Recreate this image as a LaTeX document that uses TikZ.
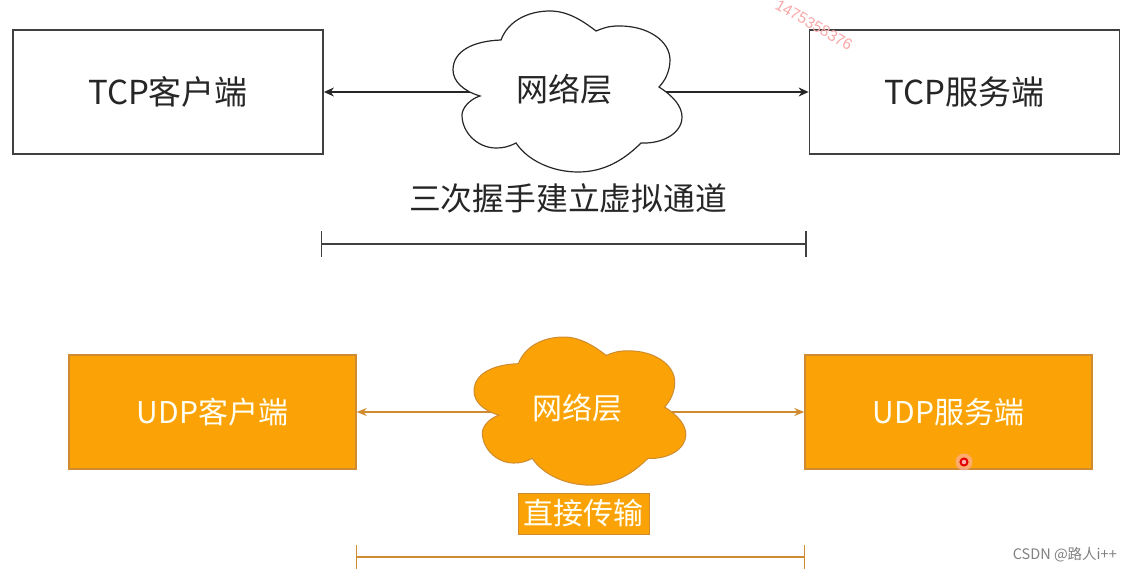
\documentclass[tikz,border=0pt]{standalone}
\usepackage{fontspec}
\setmainfont{Noto Sans CJK SC}
\newfontfamily\markfont{Liberation Sans}
\usepackage{tikz}
\usetikzlibrary{arrows.meta}
\definecolor{boxline}{HTML}{404040}
\definecolor{udpfill}{HTML}{FBA306}
\definecolor{udpline}{HTML}{CF8B30}
\definecolor{markpink}{HTML}{F9A8A8}
\tikzstyle{tcpbox}=[draw=boxline, line width=1.8pt, fill=white, inner sep=0, minimum width=310pt, minimum height=124pt, font=\fontsize{33pt}{33pt}\selectfont, text=black!85]
\tikzstyle{udpbox}=[draw=udpline, line width=1.4pt, fill=udpfill, inner sep=0, minimum width=287pt, minimum height=114pt, font=\fontsize{30pt}{30pt}\selectfont, text=white!95!yellow]
\tikzstyle{tcplink}=[draw=black!85, line width=1.3pt, -{Stealth[length=10pt, width=9pt]}]
\tikzstyle{udplink}=[draw=udpline, line width=1.3pt, -{Stealth[length=10pt, width=8pt]}]
\tikzstyle{tcpspan}=[draw=boxline, line width=1.3pt, {Bar[width=26pt]}-{Bar[width=26pt]}]
\tikzstyle{udpspan}=[draw=udpline, line width=1.3pt, {Bar[width=24pt]}-{Bar[width=24pt]}]
\tikzset{netcloud/.pic={
    \path[pic actions] (27,85) .. controls (10,80) and (0,70) .. (0,59)
        .. controls (0,40) and (20,30) .. (48,29)
        .. controls (55,10) and (75,0) .. (97,0)
        .. controls (115,0) and (130,10) .. (143,20)
        .. controls (155,15) and (160,15) .. (167,15)
        .. controls (195,15) and (217,30) .. (217,49)
        .. controls (217,60) and (212,70) .. (206,76)
        .. controls (220,85) and (229,95) .. (229,106)
        .. controls (229,122) and (210,133) .. (188,132)
        .. controls (170,150) and (150,161) .. (125,161)
        .. controls (100,161) and (75,150) .. (63,132)
        .. controls (55,136) and (50,137) .. (43,137)
        .. controls (25,137) and (9,122) .. (9,104)
        .. controls (9,97) and (17,88) .. (27,85) -- cycle;
}}
\begin{document}
\begin{tikzpicture}[x=1pt, y=-1pt]
    \useasboundingbox (0, 0) rectangle (1132, 572);
    % upper half
    \node[tcpbox] (tcpclient) at (168, 92) {TCP客户端};
    \node[tcpbox] (tcpserver) at (964.5, 92) {TCP服务端};
    \coordinate (netAleft) at (470, 92);
    \coordinate (netAright) at (665, 92);
    \draw[tcplink] (netAleft) -- (tcpclient);
    \draw[tcplink] (netAright) -- (tcpserver);
    \pic[draw=black!85, line width=1.2pt, fill=white] at (453, 11) {netcloud};
    \node[font=\fontsize{32pt}{32pt}\selectfont, text=black!85] (netA) at (564, 89) {网络层};
    \node[font=\fontsize{31.8pt}{32pt}\selectfont, text=black!85] (tcplabel) at (568, 198) {三次握手建立虚拟通道};
    \coordinate (spanAleft) at (321, 244);
    \coordinate (spanAright) at (806.5, 244);
    \draw[tcpspan] (spanAleft) -- (spanAright);
    % lower half
    \node[udpbox] (udpclient) at (212.5, 412) {UDP客户端};
    \node[udpbox] (udpserver) at (948.5, 412) {UDP服务端};
    \coordinate (netBleft) at (495, 412);
    \coordinate (netBright) at (672, 412);
    \draw[udplink] (netBleft) -- (udpclient);
    \draw[udplink] (netBright) -- (udpserver);
    \pic[draw=udpline, line width=1pt, fill=udpfill, xscale=0.925, yscale=0.92] at (474, 337) {netcloud};
    \node[font=\fontsize{30pt}{30pt}\selectfont, text=white!95!yellow] (netB) at (577.5, 408) {网络层};
    \node[draw=udpline, fill=udpfill, line width=1pt, inner sep=0, minimum width=131pt, minimum height=41pt, font=\fontsize{30pt}{30pt}\selectfont, text=white!95!yellow] (udplabel) at (583.5, 513.5) {直接传输};
    \coordinate (spanBleft) at (356, 557);
    \coordinate (spanBright) at (805, 557);
    \draw[udpspan] (spanBleft) -- (spanBright);
    % overlays
    \node[rotate=-30, inner sep=0, font=\markfont\fontsize{15.5pt}{16pt}\selectfont, text=markpink] (mark) at (814, 25) {1475358376};
    \node[circle, fill=red!30, draw=none, opacity=0.6, minimum size=17pt, inner sep=0] (pointerglow) at (964, 462) {};
    \node[circle, draw=red!90!black, fill=white!70!red, line width=2pt, minimum size=7pt, inner sep=0] (pointer) at (964, 462) {};
    \node[anchor=east, inner sep=0, font=\fontsize{14.5pt}{15pt}\selectfont, text=black!50] (csdn) at (1117, 555) {CSDN @路人i++};
\end{tikzpicture}
\end{document}
